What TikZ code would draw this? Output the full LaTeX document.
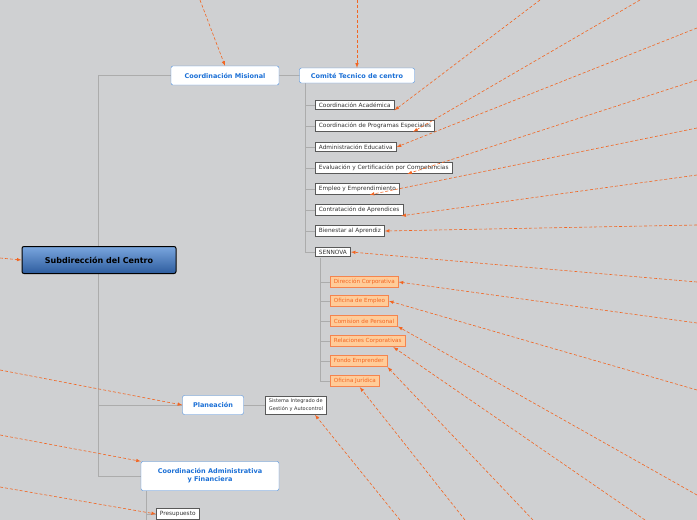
\documentclass[tikz,border=0pt]{standalone}
\usepackage{fontspec}
\setmainfont{DejaVu Sans}
\definecolor{bg}{HTML}{CFD0D2}
\definecolor{lk}{HTML}{F26522}
\definecolor{bl}{HTML}{1A6FD6}
\definecolor{mt}{HTML}{7AA6DE}
\definecolor{mb}{HTML}{2D5C9E}
\begin{document}
\begin{tikzpicture}[x=1pt,y=-1pt,
  tree/.style={draw=gray!65,line width=1pt},
  link/.style={draw=lk,densely dashed,line width=0.6pt,-latex},
  main/.style={draw=black,line width=1pt,rounded corners=2pt,top color=mt,bottom color=mb,minimum width=154pt,minimum height=27pt,font=\bfseries\fontsize{8}{9}\selectfont},
  sub/.style={draw=bl!80,fill=white,rounded corners=2pt,text=bl,font=\bfseries\fontsize{6.5}{8}\selectfont,align=center,inner sep=3pt},
  leaf/.style={draw=gray!70!black,line width=0.8pt,fill=white,text=black!80,font=\fontsize{5.8}{7.5}\selectfont,inner xsep=3.5pt,inner ysep=2.5pt,anchor=west,align=left},
  oleaf/.style={draw=lk!80,line width=0.8pt,fill=orange!40,text=lk,font=\fontsize{5.6}{7}\selectfont,inner xsep=3.5pt,inner ysep=3pt,anchor=west}]
\fill[bg] (0,0) rectangle (697,520);
\useasboundingbox (0,0) rectangle (697,520);
% tree lines
\draw[tree] (98,75) -- (98,476);
\draw[tree] (98,75) -- (171,75);
\draw[tree] (98,405) -- (182,405);
\draw[tree] (98,476) -- (141,476);
\draw[tree] (279,75) -- (300,75);
\draw[tree] (243,405) -- (265,405);
\draw[tree] (305,83) -- (305,252);
\foreach \y in {105,126,147,168,189,210,231,252} \draw[tree] (305,\y) -- (315,\y);
\draw[tree] (320,258) -- (320,381);
\foreach \y in {282,301,321,341,361,381} \draw[tree] (320,\y) -- (330,\y);
\draw[tree] (146,491) -- (146,520);
\draw[tree] (146,514) -- (156,514);
% nodes
\node[main] (sd) at (99,260) {Subdirección del Centro};
\node[sub,minimum width=108pt,minimum height=19pt] (cm) at (225,75.5) {Coordinación Misional};
\node[sub,minimum width=115pt,minimum height=15pt] (ct) at (357,75.5) {Comité Tecnico de centro};
\node[sub,minimum width=61pt,minimum height=19pt] (pl) at (213,405) {Planeación};
\node[sub,minimum width=138pt,minimum height=29pt] (ca) at (210,476) {Coordinación Administrativa\\y Financiera};
\node[leaf] (a1) at (315,105) {Coordinación Académica};
\node[leaf] (a2) at (315,126) {Coordinación de Programas Especiales};
\node[leaf] (a3) at (315,147) {Administración Educativa};
\node[leaf] (a4) at (315,168) {Evaluación y Certificación por Competencias};
\node[leaf] (a5) at (315,189) {Empleo y Emprendimiento};
\node[leaf] (a6) at (315,210) {Contratación de Aprendices};
\node[leaf] (a7) at (315,231) {Bienestar al Aprendiz};
\node[leaf] (a8) at (315,252) {SENNOVA};
\node[oleaf] (o1) at (330,282) {Dirección Corporativa};
\node[oleaf] (o2) at (330,301) {Oficina de Empleo};
\node[oleaf] (o3) at (330,321) {Comision de Personal};
\node[oleaf] (o4) at (330,341) {Relaciones Corporativas};
\node[oleaf] (o5) at (330,361) {Fondo Emprender};
\node[oleaf] (o6) at (330,381) {Oficina Jurídica};
\node[leaf,font=\fontsize{5}{8}\selectfont] (si) at (265,405.5) {Sistema Integrado de\\Gestión y Autocontrol};
\node[leaf] (pr) at (156,514) {Presupuesto};
% incoming links
\coordinate (e1) at (200,0); \coordinate (e2) at (357,0); \coordinate (e3) at (540,0);
\coordinate (e4) at (640,0); \coordinate (e5) at (697,28); \coordinate (e6) at (697,80);
\coordinate (e7) at (697,128); \coordinate (e8) at (697,175); \coordinate (e9) at (697,225);
\coordinate (e10) at (697,282); \coordinate (e11) at (697,323); \coordinate (e12) at (697,390);
\coordinate (e13) at (697,495); \coordinate (e14) at (645,520); \coordinate (e15) at (533,520);
\coordinate (e16) at (465,520); \coordinate (e17) at (400,520);
\coordinate (w1) at (0,258); \coordinate (w2) at (0,370); \coordinate (w3) at (0,435); \coordinate (w4) at (0,487);
\draw[link] (e1) -- (cm.north);
\draw[link] (e2) -- (ct.north);
\draw[link] (e3) -- (a1.south east);
\draw[link] (e4) -- ([xshift=-22pt]a2.south east);
\draw[link] (e5) -- (a3.east);
\draw[link] (e6) -- ([xshift=-45pt]a4.south east);
\draw[link] (e7) -- ([xshift=-30pt]a5.south east);
\draw[link] (e8) -- ([xshift=-2pt]a6.south east);
\draw[link] (e9) -- (a7.east);
\draw[link] (e10) -- (a8.east);
\draw[link] (e11) -- (o1.east);
\draw[link] (e12) -- (o2.east);
\draw[link] (e13) -- (o3.south east);
\draw[link] (e14) -- ([xshift=-12pt]o4.south east);
\draw[link] (e15) -- (o5.south east);
\draw[link] (e16) -- ([xshift=-20pt]o6.south east);
\draw[link] (e17) -- ([xshift=-12pt]si.south east);
\draw[link] (w1) -- (sd.west);
\draw[link] (w2) -- (pl.west);
\draw[link] (w3) -- (ca.north west);
\draw[link] (w4) -- (pr.west);
\end{tikzpicture}
\end{document}
